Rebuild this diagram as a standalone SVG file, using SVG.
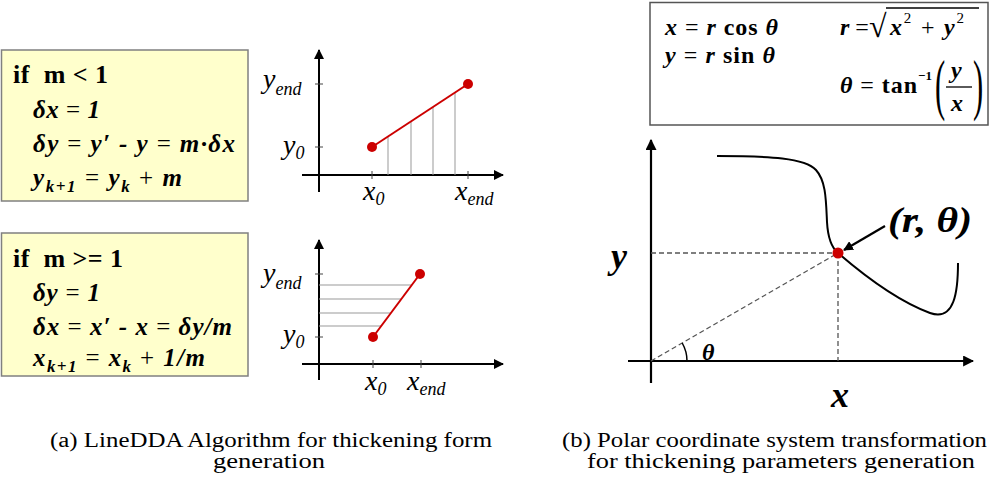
<svg xmlns="http://www.w3.org/2000/svg" width="1000" height="485" viewBox="0 0 1000 485" font-family="Liberation Serif, serif">
<style>
.box{fill:#FFFFCC;stroke:#808080;stroke-width:1.5}
.hd{font-weight:bold;font-size:26px}
.eq{font-style:italic;font-weight:bold;font-size:25px}
.op{font-weight:normal;font-style:normal}
.ax{stroke:#000;stroke-width:2;fill:none}
.tick{stroke:#444;stroke-width:1}
.grid{stroke:#999;stroke-width:1}
.red{stroke:#CC0000;stroke-width:2}
.dot{fill:#CC0000}
.lbl{font-style:italic;font-size:28px}
.sub{font-size:18px}
.dash{stroke:#555;stroke-width:1.3;stroke-dasharray:5,3;fill:none}
.pf{font-style:italic;font-weight:bold;font-size:24px}
.cap{font-size:20px}
</style>
<defs>
<marker id="ah" viewBox="0 0 10 10" refX="9" refY="5" markerWidth="5" markerHeight="5" orient="auto" markerUnits="strokeWidth">
<path d="M0,0 L10,5 L0,10 z" fill="#000"/>
</marker>
<marker id="ah2" viewBox="0 0 10 10" refX="9" refY="5" markerWidth="4.5" markerHeight="4.5" orient="auto" markerUnits="strokeWidth">
<path d="M0,0 L10,5 L0,10 z" fill="#000"/>
</marker>
</defs>

<g id="box1">
<rect class="box" x="1.5" y="50" width="246.5" height="151"/>
<text class="hd" x="13" y="83" xml:space="preserve" textLength="95" lengthAdjust="spacing">if  m &lt; 1</text>
<text class="eq" x="33" y="118" textLength="67" lengthAdjust="spacing">δx <tspan class="op">=</tspan> 1</text>
<text class="eq" x="33" y="152" textLength="202" lengthAdjust="spacing">δy <tspan class="op">=</tspan> y′ - y <tspan class="op">=</tspan> m·δx</text>
<text class="eq" x="33" y="186" textLength="149" lengthAdjust="spacing">y<tspan font-size="17" dy="6">k+1</tspan><tspan dy="-6"> <tspan class="op">=</tspan> y</tspan><tspan font-size="17" dy="6">k</tspan><tspan dy="-6"> <tspan class="op">+</tspan> m</tspan></text>
</g>

<g id="box2">
<rect class="box" x="1.5" y="233" width="246.5" height="143"/>
<text class="hd" x="13" y="267" xml:space="preserve" textLength="110" lengthAdjust="spacing">if  m &gt;= 1</text>
<text class="eq" x="33" y="301" textLength="67" lengthAdjust="spacing">δy <tspan class="op">=</tspan> 1</text>
<text class="eq" x="33" y="335" textLength="199" lengthAdjust="spacing">δx <tspan class="op">=</tspan> x′ - x <tspan class="op">=</tspan> δy/m</text>
<text class="eq" x="33" y="366" textLength="172" lengthAdjust="spacing">x<tspan font-size="17" dy="6">k+1</tspan><tspan dy="-6"> <tspan class="op">=</tspan> x</tspan><tspan font-size="17" dy="6">k</tspan><tspan dy="-6"> <tspan class="op">+</tspan> 1/m</tspan></text>
</g>

<g id="graph1">
<line class="ax" x1="319" y1="192" x2="319" y2="50" marker-end="url(#ah)"/>
<line class="ax" x1="302" y1="175" x2="503" y2="175" marker-end="url(#ah)"/>
<line class="tick" x1="315" y1="84" x2="323" y2="84"/>
<line class="tick" x1="315" y1="147" x2="323" y2="147"/>
<line class="tick" x1="372" y1="171" x2="372" y2="179"/>
<line class="tick" x1="468" y1="171" x2="468" y2="179"/>
<line class="grid" x1="388" y1="136.5" x2="388" y2="175"/>
<line class="grid" x1="411" y1="121.4" x2="411" y2="175"/>
<line class="grid" x1="433" y1="107" x2="433" y2="175"/>
<line class="grid" x1="455" y1="92.5" x2="455" y2="175"/>
<line class="red" x1="372" y1="147" x2="468" y2="84"/>
<circle class="dot" cx="372" cy="147" r="5"/>
<circle class="dot" cx="468" cy="84" r="5"/>
<text class="lbl" x="263" y="88">y<tspan class="sub" dy="7">end</tspan></text>
<text class="lbl" x="283" y="154">y<tspan class="sub" dy="5">0</tspan></text>
<text class="lbl" x="363" y="200">x<tspan class="sub" dy="5">0</tspan></text>
<text class="lbl" x="455" y="200">x<tspan class="sub" dy="5">end</tspan></text>
</g>

<g id="graph2">
<line class="ax" x1="319" y1="380" x2="319" y2="240" marker-end="url(#ah)"/>
<line class="ax" x1="302" y1="364" x2="503" y2="364" marker-end="url(#ah)"/>
<line class="tick" x1="315" y1="274" x2="323" y2="274"/>
<line class="tick" x1="315" y1="337" x2="323" y2="337"/>
<line class="tick" x1="373" y1="360" x2="373" y2="368"/>
<line class="tick" x1="421" y1="360" x2="421" y2="368"/>
<line class="grid" x1="319" y1="285" x2="411.8" y2="285"/>
<line class="grid" x1="319" y1="299" x2="401.3" y2="299"/>
<line class="grid" x1="319" y1="313" x2="390.9" y2="313"/>
<line class="grid" x1="319" y1="326" x2="381.2" y2="326"/>
<line class="red" x1="373" y1="337" x2="420" y2="274"/>
<circle class="dot" cx="373" cy="337" r="5"/>
<circle class="dot" cx="420" cy="274" r="5"/>
<text class="lbl" x="263" y="282">y<tspan class="sub" dy="7">end</tspan></text>
<text class="lbl" x="283" y="343">y<tspan class="sub" dy="5">0</tspan></text>
<text class="lbl" x="365" y="390">x<tspan class="sub" dy="5">0</tspan></text>
<text class="lbl" x="407" y="390">x<tspan class="sub" dy="5">end</tspan></text>
</g>

<g id="formulas">
<rect x="650" y="2.5" width="338" height="122.5" fill="#fff" stroke="#555" stroke-width="1.5"/>
<text class="pf" x="665" y="35" textLength="113" lengthAdjust="spacing">x <tspan class="op">=</tspan> r <tspan font-style="normal">cos</tspan> θ</text>
<text class="pf" x="665" y="63" textLength="110" lengthAdjust="spacing">y <tspan class="op">=</tspan> r <tspan font-style="normal">sin</tspan> θ</text>
<text class="pf" x="840" y="35">r <tspan class="op">=</tspan></text>
<text x="869" y="37" font-size="32">√</text>
<line x1="886" y1="8" x2="979" y2="8" stroke="#000" stroke-width="1.3"/>
<text class="pf" x="890" y="35" textLength="74" lengthAdjust="spacing">x<tspan font-size="15" dy="-12" class="op">2</tspan><tspan dy="12" class="op"> + </tspan>y<tspan font-size="15" dy="-12" class="op">2</tspan></text>
<text class="pf" x="840" y="93" textLength="77" lengthAdjust="spacing">θ <tspan class="op">=</tspan> <tspan font-style="normal">tan</tspan></text>
<text x="918" y="80" font-size="13" font-weight="bold">−1</text>
<text transform="translate(935,107) scale(0.45,1)" font-size="68">(</text>
<text transform="translate(973,107) scale(0.45,1)" font-size="68">)</text>
<text class="pf" x="951" y="78">y</text>
<line x1="946" y1="87" x2="972" y2="87" stroke="#000" stroke-width="1.3"/>
<text class="pf" x="951" y="111">x</text>
</g>

<g id="polar">
<line x1="651" y1="383" x2="651" y2="140" stroke="#000" stroke-width="2.2" marker-end="url(#ah)"/>
<line x1="628" y1="361" x2="973" y2="361" stroke="#000" stroke-width="2.2" marker-end="url(#ah)"/>
<line class="dash" x1="651" y1="253" x2="838" y2="253"/>
<line class="dash" x1="838" y1="253" x2="838" y2="361"/>
<line class="dash" x1="651" y1="361" x2="838" y2="253"/>
<path d="M687,361 A36,36 0 0 0 682.2,343" fill="none" stroke="#000" stroke-width="1.5"/>
<path d="M717,156 C770,156 805,158 816,170 C826,181 826,200 827,222 C828,240 832,248 838,253 C860,272 895,300 930,313 C955,322 958,290 958,263" fill="none" stroke="#000" stroke-width="2"/>
<circle class="dot" cx="838" cy="253" r="5.5"/>
<text x="702" y="360" font-size="24" font-style="italic" font-weight="bold">θ</text>
<text x="611" y="268" font-size="36" font-style="italic" font-weight="bold">y</text>
<text x="831" y="407" font-size="36" font-style="italic" font-weight="bold">x</text>
<text x="888" y="232" font-size="36" font-style="italic" font-weight="bold" textLength="84" lengthAdjust="spacingAndGlyphs">(r, θ)</text>
</g>

<g id="connectors">
<line x1="885" y1="226" x2="844" y2="250" stroke="#000" stroke-width="2.2" marker-end="url(#ah2)"/>
</g>

<g id="captions">
<text class="cap" x="50" y="447" textLength="442" lengthAdjust="spacingAndGlyphs">(a) LineDDA Algorithm for thickening form</text>
<text class="cap" x="213" y="468" textLength="112" lengthAdjust="spacingAndGlyphs">generation</text>
<text class="cap" x="562" y="447" textLength="425" lengthAdjust="spacingAndGlyphs">(b) Polar coordinate system transformation</text>
<text class="cap" x="587" y="468" textLength="388" lengthAdjust="spacingAndGlyphs">for thickening parameters generation</text>
</g>
</svg>
